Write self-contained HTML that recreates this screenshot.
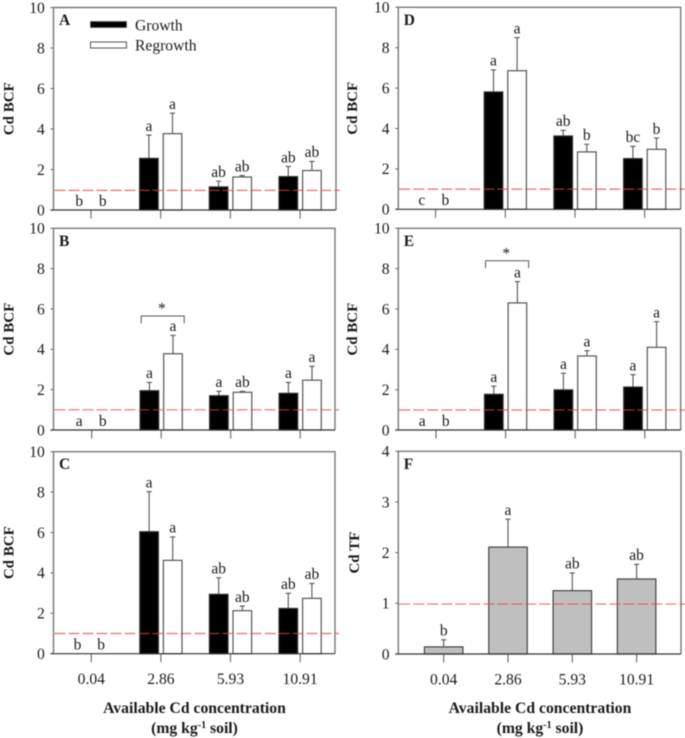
<!DOCTYPE html>
<html lang="en">
<head>
<meta charset="utf-8">
<title>Cd BCF and TF bar charts</title>
<style>
html,body{margin:0;padding:0;background:#fff;width:685px;height:738px;overflow:hidden}
svg{display:block;filter:blur(0.4px)}
text{font-family:"Liberation Serif","Times New Roman",serif;fill:#1a1a1a}
.tick{font-size:15.6px}
.letter{font-size:15.5px}
.ytitle{font-weight:bold;font-size:15px}
.xtitle{font-weight:bold;font-size:15.7px}
.panel{font-weight:bold;font-size:15.5px}
.legend{font-size:15.6px}
</style>
</head>
<body>
<svg id="figure" width="685" height="738" viewBox="0 0 685 738" xmlns="http://www.w3.org/2000/svg">
  <g id="plots"></g>
  <g>
    <rect x="90.5" y="21.5" width="36" height="6" fill="#000" stroke="#555" stroke-width="0.8"/>
    <text class="legend" x="135" y="30.5">Growth</text>
    <rect x="90.5" y="42" width="36" height="6" fill="#fff" stroke="#555" stroke-width="1"/>
    <text class="legend" x="135" y="50.5">Regrowth</text>
  </g>
  <g>
    <text class="xtitle" x="194.5" y="713" text-anchor="middle">Available Cd concentration</text>
    <text class="xtitle" x="194.5" y="733" text-anchor="middle">(mg kg<tspan font-size="10" dy="-5">-1</tspan><tspan dy="5"> soil)</tspan></text>
  </g>
  <g>
    <text class="xtitle" x="540" y="713" text-anchor="middle">Available Cd concentration</text>
    <text class="xtitle" x="540" y="733" text-anchor="middle">(mg kg<tspan font-size="10" dy="-5">-1</tspan><tspan dy="5"> soil)</tspan></text>
  </g>
</svg>
<script>
const categories = ['0.04', '2.86', '5.93', '10.91'];
const bcfTicks = [0, 2, 4, 6, 8, 10];
const tfTicks = [0, 1, 2, 3, 4];

const growthA = [0, 2.55, 1.14, 1.65];
const growthErrA = [0, 3.7, 1.42, 2.15];
const growthLettersA = ['b', 'a', 'ab', 'ab'];
const regrowthA = [0, 3.77, 1.63, 1.95];
const regrowthErrA = [0, 4.78, 1.7, 2.4];
const regrowthLettersA = ['b', 'a', 'ab', 'ab'];

const growthB = [0, 1.95, 1.7, 1.82];
const growthErrB = [0, 2.36, 1.92, 2.36];
const growthLettersB = ['a', 'a', 'a', 'a'];
const regrowthB = [0, 3.78, 1.87, 2.47];
const regrowthErrB = [0, 4.69, 1.92, 3.16];
const regrowthLettersB = ['b', 'a', 'ab', 'a'];

const growthC = [0, 6.04, 2.94, 2.24];
const growthErrC = [0, 8.02, 3.76, 2.99];
const growthLettersC = ['b', 'a', 'ab', 'ab'];
const regrowthC = [0, 4.62, 2.13, 2.74];
const regrowthErrC = [0, 5.78, 2.36, 3.48];
const regrowthLettersC = ['b', 'a', 'ab', 'ab'];

const growthD = [0, 5.81, 3.63, 2.51];
const growthErrD = [0, 6.9, 3.91, 3.12];
const growthLettersD = ['c', 'a', 'ab', 'bc'];
const regrowthD = [0, 6.86, 2.84, 2.97];
const regrowthErrD = [0, 8.5, 3.22, 3.53];
const regrowthLettersD = ['b', 'a', 'b', 'b'];

const growthE = [0, 1.77, 1.99, 2.13];
const growthErrE = [0, 2.17, 2.82, 2.74];
const growthLettersE = ['a', 'a', 'a', 'a'];
const regrowthE = [0, 6.3, 3.67, 4.1];
const regrowthErrE = [0, 7.36, 3.93, 5.37];
const regrowthLettersE = ['b', 'a', 'a', 'a'];

const tfValues = [0.14, 2.11, 1.25, 1.48];
const tfErr = [0.28, 2.66, 1.6, 1.77];
const tfLetters = ['b', 'a', 'ab', 'ab'];

const SVG_NS = 'http://www.w3.org/2000/svg';
const plots = document.getElementById('plots');

function mk(parent, tag, attrs, txt) {
  const el = document.createElementNS(SVG_NS, tag);
  for (const k in attrs) el.setAttribute(k, attrs[k]);
  if (txt !== undefined) el.textContent = txt;
  parent.appendChild(el);
  return el;
}

function drawBar(g, name, xMid, width, value, err, letter, y, fill, stroke, labelShift) {
  const base = y(0);
  const top = y(value);
  const halfCap = 2.6;
  if (err > value) {
    const whisker = mk(g, 'path', {
      d: 'M' + xMid + ' ' + top + 'V' + y(err) + 'M' + (xMid - halfCap) + ' ' + y(err) + 'H' + (xMid + halfCap),
      stroke: '#555', 'stroke-width': 1.1, fill: 'none'
    });
    
    
  }
  if (value > 0) {
    const bar = mk(g, 'rect', {
      x: xMid - width / 2, y: top, width: width, height: base - top,
      fill: fill, stroke: stroke, 'stroke-width': 1.2
    });
    
    
  }
  const labelY = y(Math.max(err, value)) - 4.2;
  const label = mk(g, 'text', {
    class: 'letter', x: xMid + labelShift, y: labelY, 'text-anchor': 'middle'
  }, letter);
  
  
}

function drawPanel(p) {
  const g = mk(plots, 'g', {});
  
  

  const yMax = p.ticks[p.ticks.length - 1];
  const y = v => p.bottom - (v / yMax) * (p.bottom - p.top);
  const x = i => p.x0 + p.step * i;

  const frame = mk(g, 'path', {
    d: 'M' + p.left + ' ' + p.bottom + 'V' + p.top + 'H' + p.right + 'V' + p.bottom,
    fill: 'none', stroke: '#777', 'stroke-width': 1.4
  });
  
  

  p.ticks.forEach(t => {
    const tick = mk(g, 'line', {
      x1: p.left - 3, x2: p.left, y1: y(t), y2: y(t), stroke: '#666', 'stroke-width': 1
    });
    
    
    const lab = mk(g, 'text', {
      class: 'tick', x: p.left - 8.7, y: y(t) + 5.3, 'text-anchor': 'end'
    }, String(t));
    
    
  });

  const yTitle = mk(g, 'text', {
    class: 'ytitle', 'text-anchor': 'middle',
    transform: 'translate(' + (p.left - p.titleGap) + ' ' + ((p.top + p.bottom) / 2) + ') rotate(-90)'
  }, p.yTitle);
  
  

  const panelLabel = mk(g, 'text', {
    class: 'panel', x: p.left + 5.5, y: p.top + 17.5
  }, p.id);
  
  

  categories.forEach((c, i) => {
    const cx = x(i);
    if (p.single) {
      drawBar(g, 'tf-bar-' + c, cx, 38.5, p.single[i], p.singleErr[i], p.singleLetters[i], y, '#bfbfbf', '#444', 0);
    } else {
      const shift = i === 0 ? p.firstShift : 0;
      drawBar(g, 'growth-bar-' + c, cx - 11.8, 18.6, p.growth[i], p.growthErr[i], p.growthLetters[i], y, '#000', '#333', shift);
      drawBar(g, 'regrowth-bar-' + c, cx + 11.8, 18.6, p.regrowth[i], p.regrowthErr[i], p.regrowthLetters[i], y, '#fff', '#555', shift);
    }
    const tick = mk(g, 'line', {
      x1: cx, x2: cx, y1: p.bottom, y2: p.bottom + 8.5, stroke: '#666', 'stroke-width': 1.1
    });
    
    
    if (p.showX) {
      const lab = mk(g, 'text', {
        class: 'tick', x: cx, y: p.bottom + 30.3, 'text-anchor': 'middle'
      }, c);
      
      
    }
  });

  const axis = mk(g, 'line', {
    x1: p.left - 3, x2: p.right, y1: p.bottom, y2: p.bottom, stroke: '#333', 'stroke-width': 1.2
  });
  
  

  const refLine = mk(g, 'line', {
    x1: p.left + 1, x2: p.right + 4, y1: y(p.ref), y2: y(p.ref),
    stroke: '#e4403f', 'stroke-opacity': 0.75, 'stroke-width': 1.2, 'stroke-dasharray': '11 3'
  });
  
  

  if (p.bracket) {
    const cx = x(1);
    const by = y(p.bracket);
    const br = mk(g, 'path', {
      d: 'M' + (cx - 20) + ' ' + (by + 7.3) + 'V' + by + 'H' + (cx + 23) + 'V' + (by + 7.3),
      fill: 'none', stroke: '#555', 'stroke-width': 1
    });
    
    
    const star = mk(g, 'text', {
      class: 'letter', x: cx + 0.7, y: by - 2.5, 'text-anchor': 'middle'
    }, '*');
    
    
  }
}

drawPanel({id:'A', left:53.5, right:336, top:7.5, bottom:210, x0:91, step:69.7, ticks:bcfTicks, yTitle:'Cd BCF', titleGap:40, ref:0.97, firstShift:0,
  growth:growthA, growthErr:growthErrA, growthLetters:growthLettersA,
  regrowth:regrowthA, regrowthErr:regrowthErrA, regrowthLetters:regrowthLettersA});
drawPanel({id:'B', left:53.5, right:335, top:228.3, bottom:430, x0:91.7, step:69.5, ticks:bcfTicks, yTitle:'Cd BCF', titleGap:40, ref:1, firstShift:-0.7, bracket:5.65,
  growth:growthB, growthErr:growthErrB, growthLetters:growthLettersB,
  regrowth:regrowthB, regrowthErr:regrowthErrB, regrowthLetters:regrowthLettersB});
drawPanel({id:'C', left:53.5, right:335, top:451.7, bottom:653.7, x0:91.3, step:69.6, ticks:bcfTicks, yTitle:'Cd BCF', titleGap:40, ref:1, firstShift:-2, showX:true,
  growth:growthC, growthErr:growthErrC, growthLetters:growthLettersC,
  regrowth:regrowthC, regrowthErr:regrowthErrC, regrowthLetters:regrowthLettersC});
drawPanel({id:'D', left:398.3, right:680.7, top:7.3, bottom:209.3, x0:435.6, step:69.7, ticks:bcfTicks, yTitle:'Cd BCF', titleGap:41.5, ref:1, firstShift:-2,
  growth:growthD, growthErr:growthErrD, growthLetters:growthLettersD,
  regrowth:regrowthD, regrowthErr:regrowthErrD, regrowthLetters:regrowthLettersD});
drawPanel({id:'E', left:398.3, right:680.7, top:228.3, bottom:430, x0:436, step:69.6, ticks:bcfTicks, yTitle:'Cd BCF', titleGap:41.5, ref:0.99, firstShift:-2, bracket:8.39,
  growth:growthE, growthErr:growthErrE, growthLetters:growthLettersE,
  regrowth:regrowthE, regrowthErr:regrowthErrE, regrowthLetters:regrowthLettersE});
drawPanel({id:'F', left:398.3, right:681, top:451.3, bottom:654, x0:443.7, step:64.3, ticks:tfTicks, yTitle:'Cd TF', titleGap:39.5, ref:0.985, showX:true,
  single:tfValues, singleErr:tfErr, singleLetters:tfLetters});
</script>
</body>
</html>
